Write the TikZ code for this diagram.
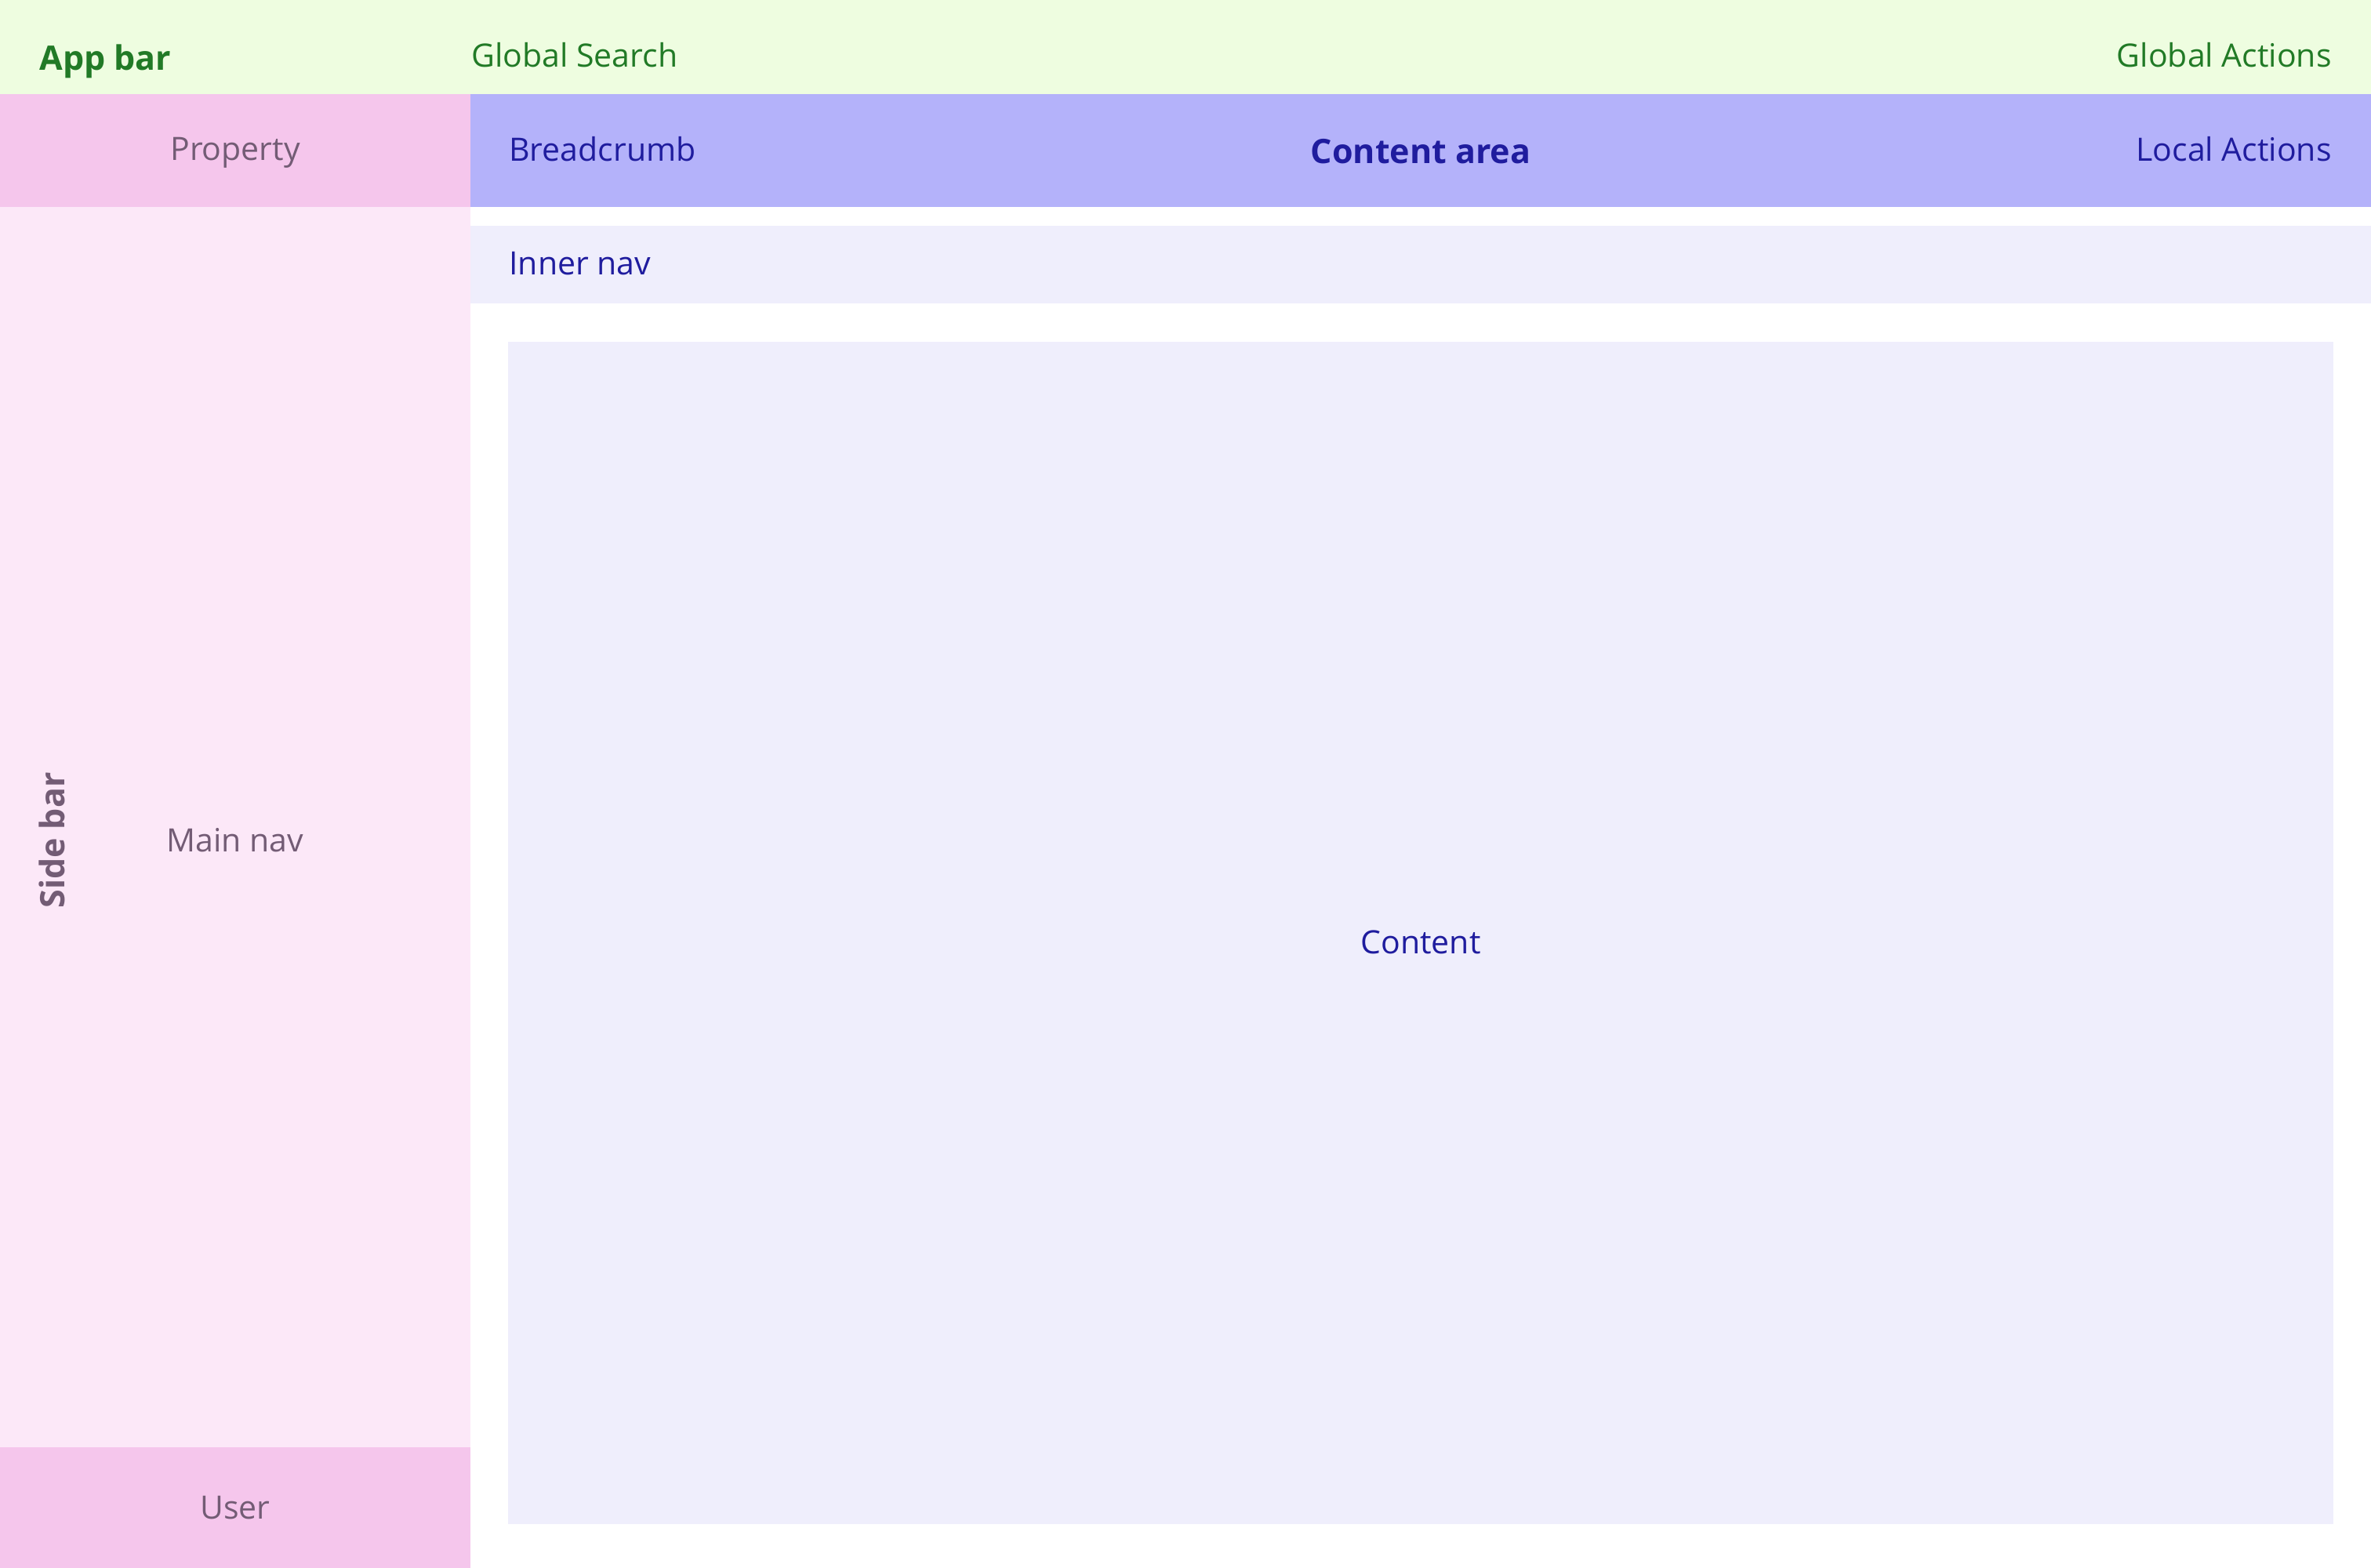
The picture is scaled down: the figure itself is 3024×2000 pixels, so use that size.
\documentclass[tikz,border=0pt]{standalone}
\usepackage{fontspec}
\setmainfont{Open Sans}
\definecolor{appbg}{HTML}{EEFDE0}
\definecolor{apptext}{HTML}{217A26}
\definecolor{sidedark}{HTML}{F5C6EC}
\definecolor{sidelight}{HTML}{FCE8F8}
\definecolor{sidetext}{HTML}{735C75}
\definecolor{headbg}{HTML}{B4B2FA}
\definecolor{contbg}{HTML}{EFEEFC}
\definecolor{conttext}{HTML}{1F1C9E}
\tikzset{
  lbl/.style={inner sep=0pt, font=\fontsize{20.5pt}{24pt}\selectfont},
  boldlbl/.style={inner sep=0pt, font=\fontsize{21.5pt}{26pt}\selectfont\bfseries}
}

\begin{document}
\begin{tikzpicture}[x=0.5pt,y=-0.5pt]
        \useasboundingbox (0,0) rectangle (3024,2000);
        \fill[appbg] (0,0) rectangle (3024,120);
        \fill[sidedark] (0,120) rectangle (600,264);
        \fill[sidelight] (0,264) rectangle (600,1846);
        \fill[sidedark] (0,1846) rectangle (600,2000);
        \fill[headbg] (600,120) rectangle (3024,264);
        \fill[contbg] (600,288) rectangle (3024,387);
        \fill[contbg] (648,436) rectangle (2976,1944);
        \node[boldlbl, text=apptext, anchor=base west] (appbar) at (50,90) {App bar};
        \node[lbl, text=apptext, anchor=base west] (search) at (601,86) {Global Search};
        \node[lbl, text=apptext, anchor=base east] (gactions) at (2974,86) {Global Actions};
        \node[lbl, text=sidetext, anchor=base] (property) at (300,205) {Property};
        \node[lbl, text=conttext, anchor=base west] (crumb) at (649,206) {Breadcrumb};
        \node[boldlbl, text=conttext, anchor=base] (area) at (1812,209) {Content area};
        \node[lbl, text=conttext, anchor=base east] (lactions) at (2974,206) {Local Actions};
        \node[lbl, text=conttext, anchor=base west] (innernav) at (649,351) {Inner nav};
        \node[boldlbl, text=sidetext, anchor=base, rotate=90] (sidebar) at (82,1072) {Side bar};
        \node[lbl, text=sidetext, anchor=base] (mainnav) at (300,1086) {Main nav};
        \node[lbl, text=conttext, anchor=base] (content) at (1812,1216) {Content};
        \node[lbl, text=sidetext, anchor=base] (user) at (300,1937) {User};
    \end{tikzpicture}
\end{document}
